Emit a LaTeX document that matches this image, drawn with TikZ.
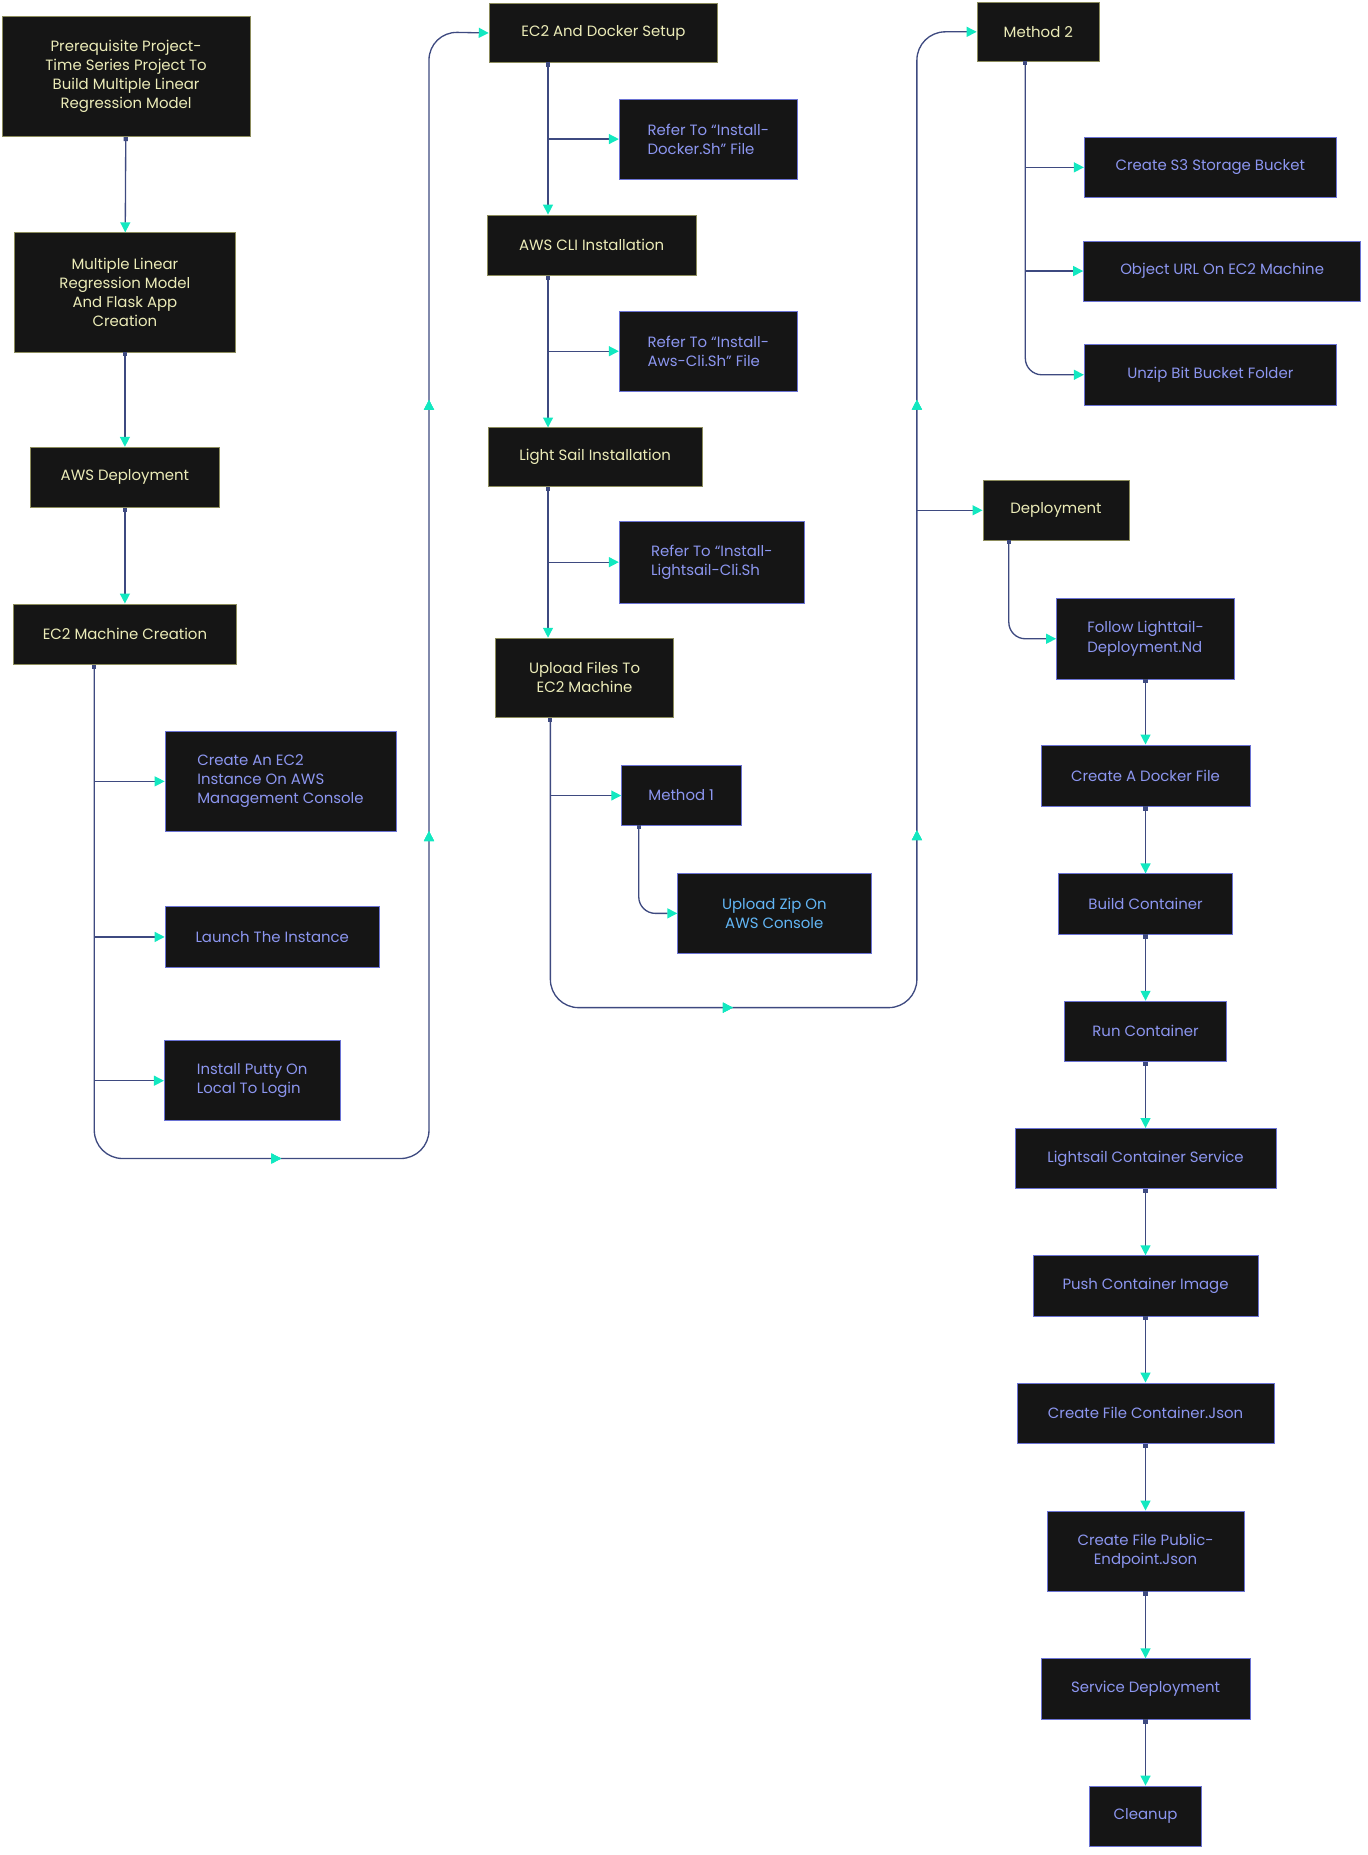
\documentclass[tikz,border=0pt]{standalone}
\usepackage{fontspec}
\setmainfont{Poppins}
\usetikzlibrary{arrows.meta,decorations.markings}
\definecolor{boxfill}{HTML}{151515}
\definecolor{ylw}{HTML}{ECECB8}
\definecolor{ylwline}{HTML}{8C8C5C}
\definecolor{blu}{HTML}{8C96F0}
\definecolor{bluline}{HTML}{6A72D4}
\definecolor{wire}{HTML}{3E4A80}
\definecolor{tip}{HTML}{12E8C0}
\tikzset{
  topic/.style={rectangle,draw=ylwline,fill=boxfill,text=ylw,align=center,font=\fontsize{9}{11.5}\selectfont,inner sep=2pt},
  leaf/.style={rectangle,draw=bluline,fill=boxfill,text=blu,align=left,font=\fontsize{9}{11.5}\selectfont,inner sep=2pt},
  link/.style={draw=wire,line width=0.8pt,rounded corners=0.6cm,-{Triangle[color=tip,length=6pt,width=6pt]}},
  linkdot/.style={link,{Square[length=2.5pt,width=2.5pt]}-{Triangle[color=tip,length=6pt,width=6pt]}},
  midtip/.style={postaction={decorate},decoration={markings,mark=at position #1 with {\arrow{Triangle[color=tip,length=6pt,width=6pt]}}}}
}
\begin{document}
\begin{tikzpicture}[x=0.025cm,y=-0.025cm]
    \useasboundingbox (0,0) rectangle (1160,1574);
    % first column
    \node[topic,minimum width=5.25cm,minimum height=2.55cm] (pre) at (107,65) {Prerequisite Project-\\Time Series Project To\\Build Multiple Linear\\Regression Model};
    \node[topic,minimum width=4.7cm,minimum height=2.53cm] (mlr) at (106,248) {Multiple Linear\\Regression Model\\And Flask App\\Creation};
    \node[topic,minimum width=4cm,minimum height=1.28cm] (aws) at (106,405) {AWS Deployment};
    \node[topic,minimum width=4.73cm,minimum height=1.28cm] (ec2) at (106,538) {EC2 Machine Creation};
    \node[leaf,minimum width=4.9cm,minimum height=2.13cm] (inst) at (238,663) {Create An EC2\\Instance On AWS\\Management Console};
    \node[leaf,minimum width=4.55cm,minimum height=1.28cm] (launch) at (231,795) {Launch The Instance};
    \node[leaf,minimum width=3.73cm,minimum height=1.7cm] (putty) at (214,917) {Install Putty On\\Local To Login};
    % second column
    \node[topic,minimum width=4.85cm,minimum height=1.25cm] (docker) at (512,28) {EC2 And Docker Setup};
    \node[leaf,minimum width=3.78cm,minimum height=1.7cm] (refdock) at (601,118) {Refer To “Install-\\Docker.Sh” File};
    \node[topic,minimum width=4.43cm,minimum height=1.28cm] (cli) at (502,208) {AWS CLI Installation};
    \node[leaf,minimum width=3.78cm,minimum height=1.7cm] (refcli) at (601,298) {Refer To “Install-\\Aws-Cli.Sh” File};
    \node[topic,minimum width=4.55cm,minimum height=1.25cm] (sail) at (505,388) {Light Sail Installation};
    \node[leaf,minimum width=3.93cm,minimum height=1.73cm] (refsail) at (604,477) {Refer To “Install-\\Lightsail-Cli.Sh};
    \node[topic,minimum width=3.78cm,minimum height=1.68cm] (upload) at (496,575) {Upload Files To\\EC2 Machine};
    \node[leaf,minimum width=2.53cm,minimum height=1.28cm] (meth1) at (578,675) {Method 1};
    \node[leaf,minimum width=4.1cm,minimum height=1.7cm,align=center,text=blu!70!cyan] (zip) at (657,775) {Upload Zip On\\AWS Console};
    % third column
    \node[topic,minimum width=2.6cm,minimum height=1.25cm] (meth2) at (881,27) {Method 2};
    \node[leaf,minimum width=5.35cm,minimum height=1.28cm] (bucket) at (1027,142) {Create S3 Storage Bucket};
    \node[leaf,minimum width=5.88cm,minimum height=1.28cm] (objurl) at (1037,230) {Object URL On EC2 Machine};
    \node[leaf,minimum width=5.35cm,minimum height=1.28cm] (unzip) at (1027,318) {Unzip Bit Bucket Folder};
    \node[topic,minimum width=3.1cm,minimum height=1.28cm] (deploy) at (896,433) {Deployment};
    \node[leaf,minimum width=3.78cm,minimum height=1.7cm] (follow) at (972,542) {Follow Lighttail-\\Deployment.Nd};
    \node[leaf,minimum width=4.43cm,minimum height=1.3cm] (dfile) at (972,658) {Create A Docker File};
    \node[leaf,minimum width=3.68cm,minimum height=1.28cm] (build) at (972,767) {Build Container};
    \node[leaf,minimum width=3.43cm,minimum height=1.28cm] (run) at (972,875) {Run Container};
    \node[leaf,minimum width=5.53cm,minimum height=1.28cm] (lcs) at (972,983) {Lightsail Container Service};
    \node[leaf,minimum width=4.78cm,minimum height=1.28cm] (push) at (972,1091) {Push Container Image};
    \node[leaf,minimum width=5.45cm,minimum height=1.28cm] (cjson) at (972,1199) {Create File Container.Json};
    \node[leaf,minimum width=4.18cm,minimum height=1.7cm,align=center] (pjson) at (972,1316) {Create File Public-\\Endpoint.Json};
    \node[leaf,minimum width=4.43cm,minimum height=1.28cm] (svc) at (972,1433) {Service Deployment};
    \node[leaf,minimum width=2.38cm,minimum height=1.28cm] (clean) at (972,1541) {Cleanup};

    % branch points
    \coordinate (ec2t) at (80,564);
    \coordinate (dockt) at (465,53);
    \coordinate (clit) at (465,234);
    \coordinate (sailt) at (465,413);
    \coordinate (upt) at (467,609);
    \coordinate (m1t) at (542,700);
    \coordinate (m2t) at (870,52);
    \coordinate (dept) at (856,458);
    \coordinate (spine) at (778,433);

    \draw[linkdot] (pre) -- (mlr);
    \draw[linkdot] (mlr) -- (aws);
    \draw[linkdot] (aws) -- (ec2);
    \draw[linkdot,rounded corners=0] (ec2t) |- (inst);
    \draw[linkdot,rounded corners=0] (ec2t) |- (launch);
    \draw[linkdot,rounded corners=0] (ec2t) |- (putty);
    \draw[linkdot,midtip=0.338,midtip=0.572,midtip=0.79] (ec2t) -- (80,983) -- (364,983) -- (364,27) -- (docker.west);

    \draw[linkdot] (dockt) -- (dockt |- cli.north);
    \draw[linkdot,rounded corners=0] (dockt) |- (refdock);
    \draw[linkdot] (clit) -- (clit |- sail.north);
    \draw[linkdot,rounded corners=0] (clit) |- (refcli);
    \draw[linkdot] (sailt) -- (sailt |- upload.north);
    \draw[linkdot,rounded corners=0] (sailt) |- (refsail);
    \draw[linkdot,rounded corners=0] (upt) |- (meth1);
    \draw[linkdot,rounded corners=0.35cm] (m1t) |- (zip);
    \draw[linkdot,midtip=0.278,midtip=0.489,midtip=0.749] (upt) -- (467,855) -- (778,855) -- (778,27) -- (meth2.west);
    \draw[link] (spine) -- (deploy);

    \draw[linkdot,rounded corners=0] (m2t) |- (bucket);
    \draw[linkdot,rounded corners=0] (m2t) |- (objurl);
    \draw[linkdot,rounded corners=0.35cm] (m2t) |- (unzip);
    \draw[linkdot,rounded corners=0.35cm] (dept) |- (follow);

    \draw[linkdot] (follow) -- (dfile);
    \draw[linkdot] (dfile) -- (build);
    \draw[linkdot] (build) -- (run);
    \draw[linkdot] (run) -- (lcs);
    \draw[linkdot] (lcs) -- (push);
    \draw[linkdot] (push) -- (cjson);
    \draw[linkdot] (cjson) -- (pjson);
    \draw[linkdot] (pjson) -- (svc);
    \draw[linkdot] (svc) -- (clean);
\end{tikzpicture}
\end{document}
